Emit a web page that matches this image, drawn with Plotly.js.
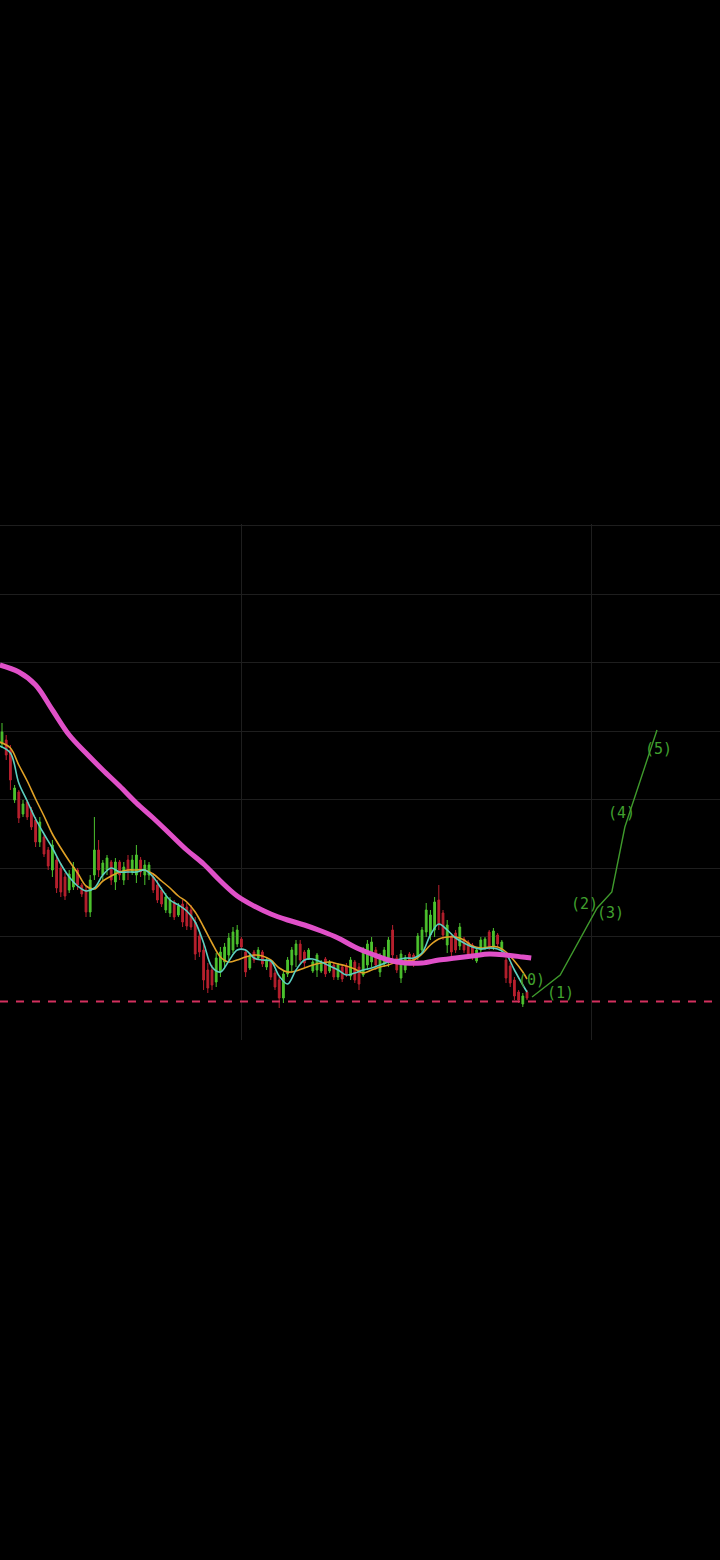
<!DOCTYPE html>
<html>
<head>
<meta charset="utf-8">
<script src="https://cdn.plot.ly/plotly-3.0.1.min.js"></script>
<style>html,body{margin:0;padding:0;background:#000;}#chart{width:720px;height:1560px;}</style>
</head>
<body>
<div id="chart"></div>
<script>
// Candle data (index-based x)
var openP  = [29.6,30.0,29.0,24.0,24.8,22.6,23.8,23.0,22.0,19.8,20.3,19.0,17.0,18.0,17.2,16.3,15.0,15.3,17.0,15.5,15.0,12.8,16.5,19.0,16.5,17.0,17.8,15.8,17.8,16.0,18.0,16.8,16.5,18.0,16.5,16.5,16.3,15.5,15.0,13.0,12.7,13.8,12.5,13.6,13.3,13.0,11.8,10.4,9.0,7.0,7.0,5.8,6.8,7.8,8.5,9.0,9.6,10.1,8.8,7.2,8.8,8.2,8.8,7.3,7.8,6.7,6.0,4.2,6.6,7.5,8.5,9.6,8.8,8.1,6.9,7.0,6.9,8.1,6.9,7.5,6.3,7.3,7.4,6.4,7.8,7.3,6.5,7.5,7.8,9.0,6.8,7.6,7.8,11.0,8.2,6.2,7.0,8.6,8.5,8.3,9.0,10.8,10.5,11.0,14.0,12.7,9.5,10.4,10.7,9.4,10.1,9.8,9.5,7.9,9.0,9.2,10.8,9.3,10.5,9.0,8.0,7.4,6.0,4.8,3.6,4.8];
var highP  = [31.7,30.5,29.5,25.5,25.0,24.0,24.0,23.3,22.3,22.3,20.5,19.3,20.0,18.3,17.7,16.7,17.0,17.8,17.2,15.7,15.3,16.5,22.3,20.0,18.0,18.5,18.0,18.2,18.0,17.8,18.5,18.5,19.5,18.3,18.0,17.8,16.7,16.0,15.3,14.7,14.3,14.0,13.7,14.0,13.7,13.5,12.3,10.7,9.7,7.7,7.5,8.7,9.3,9.7,10.7,11.3,11.5,10.3,9.0,8.7,9.0,9.3,9.0,8.3,8.0,7.0,6.3,7.0,8.3,9.3,10.0,10.0,9.0,9.2,8.0,8.7,8.0,8.3,8.0,7.7,7.7,7.5,7.7,8.3,8.0,7.7,9.3,10.0,10.3,9.3,8.7,9.3,10.3,11.5,8.5,9.0,8.5,8.8,8.7,10.7,11.3,13.7,13.0,14.3,15.5,13.0,12.0,10.7,11.0,11.7,10.3,10.0,9.7,9.3,10.3,10.3,11.0,11.2,10.7,10.0,8.3,7.7,6.3,5.0,4.7,5.0];
var lowP   = [29.2,28.0,25.0,23.7,21.7,22.3,22.0,21.0,19.3,19.3,18.3,17.0,16.3,14.7,14.3,14.0,14.7,15.0,15.0,14.3,12.3,12.3,16.0,16.3,16.0,16.5,15.5,15.0,16.0,15.5,16.0,16.5,15.7,16.3,15.5,16.0,14.7,13.7,13.3,12.7,12.3,12.0,12.3,11.3,11.0,11.0,8.0,8.3,5.0,4.7,5.0,5.3,6.3,7.3,8.0,8.7,9.3,9.0,6.3,7.0,7.7,8.0,7.3,7.0,6.0,5.0,3.2,3.7,6.3,6.7,7.3,7.7,7.3,8.0,6.7,6.3,6.7,6.3,6.7,6.0,6.0,5.8,6.3,6.0,5.7,5.0,6.3,7.0,7.3,7.0,6.3,7.3,7.3,8.0,6.7,5.7,6.7,7.5,7.3,8.0,8.7,10.3,10.0,10.3,11.0,10.0,8.7,8.3,8.7,9.0,8.7,8.3,8.0,7.7,8.7,9.0,9.0,9.0,9.3,8.7,5.7,5.3,4.0,3.7,3.3,4.0];
var closeP = [30.8,28.5,26.0,25.2,22.2,23.6,22.3,21.3,19.8,21.8,18.6,17.4,19.5,15.2,14.8,14.4,16.6,17.3,15.5,14.6,12.8,16.0,19.0,17.0,17.7,18.2,16.0,17.8,16.5,17.3,16.8,18.0,18.5,16.8,17.5,17.5,15.0,14.0,13.6,14.3,14.0,12.3,13.4,11.8,11.4,11.3,8.6,8.8,6.0,5.2,5.5,8.2,8.8,9.3,10.2,10.8,11.0,9.3,6.8,8.4,8.0,9.0,7.6,8.0,6.3,5.3,4.2,6.6,8.0,9.0,9.6,8.0,7.7,9.0,7.8,8.5,7.8,6.6,7.8,6.3,7.5,6.1,6.6,8.0,6.0,5.6,9.0,9.6,9.8,7.5,8.4,9.0,10.0,8.5,7.0,8.6,8.2,7.8,7.6,10.4,11.0,13.0,12.5,13.8,11.5,10.5,11.5,8.8,9.0,11.3,9.0,8.6,8.3,9.0,10.0,10.1,9.3,10.9,9.6,9.8,6.2,5.7,4.4,4.0,4.4,4.2];

// Short and medium moving averages, sampled at these candle indices
var maIdx = [-0.5,2,4,6,8,10,12,14,16,18,20,22,24,26,28,30,32,34,36,38,40,42,44,46,48,50,52,54,56,58,60,62,64,66,68,70,72,74,76,78,80,82,84,86,88,90,92,94,96,98,100,102,104,106,108,110,112,114,116,118,120,122,124,125];
var maShort = [29.4,28.7,25.7,23.9,22.1,20.6,19.2,17.6,16.3,15.4,14.9,15.2,16.5,17.2,16.8,16.8,16.8,17.0,16.3,15.1,14.0,13.5,12.9,11.8,9.7,7.3,6.8,7.9,9.0,9.0,8.2,8.0,7.9,6.4,5.6,7.0,8.0,8.1,7.8,7.4,7.0,6.5,6.7,7.0,7.2,7.5,7.8,8.0,8.2,8.2,8.7,10.5,11.6,11.0,10.2,9.7,9.3,9.1,9.2,9.1,8.6,7.0,5.5,4.8];
var maMid   = [29.8,29.2,27.5,25.9,24.1,22.4,20.6,19.2,17.9,16.7,15.4,15.1,15.9,16.4,16.8,17.0,17.0,17.0,16.6,15.9,15.2,14.4,13.8,12.8,11.3,9.7,8.3,7.8,8.0,8.3,8.5,8.4,8.0,7.2,6.8,6.9,7.2,7.5,7.7,7.8,7.6,7.4,7.1,6.7,7.0,7.3,7.5,7.8,7.9,8.0,8.6,9.5,10.1,10.3,10.3,10.0,9.4,9.2,9.3,9.3,8.8,7.9,6.8,6.1];

// Long moving average
var maLongIdx = [-0.5,4,8,12,16,20,24,28,32,36,40,44,48,52,56,60,64,68,72,76,80,84,88,92,96,100,104,108,112,116,120,124,126];
var maLong = [37.5,36.8,35.5,33.0,30.5,28.7,27.0,25.4,23.7,22.2,20.6,19.0,17.6,15.9,14.4,13.4,12.6,12.0,11.5,10.9,10.2,9.3,8.6,8.0,7.7,7.7,8.0,8.2,8.4,8.6,8.5,8.3,8.2];

// Projected wave path and labels
var waveIdx = [126.2,132.9,141.7,145.2,148.3,155.95];
var waveVal = [4.3,6.5,13.2,14.8,21.3,31.0];
var waveLabels = ["(0)","(1)","(2)","(3)","(4)","(5)"];
var labelIdx = [126.1,132.9,138.6,144.9,147.5,156.3];
var labelVal = [6.0,4.7,13.6,12.7,22.7,29.1];

var supportLevel = 3.85;
var gridLevels = [10.35,17.2,24.05,30.9,37.75,44.6,51.45];

var idx = openP.map(function(_, i){ return i; });

var traces = [
  {
    type: 'candlestick', x: idx, open: openP, high: highP, low: lowP, close: closeP,
    increasing: {line: {color: '#4cc22e', width: 1}, fillcolor: '#4cc22e'},
    decreasing: {line: {color: '#b8202e', width: 1}, fillcolor: '#b8202e'},
    whiskerwidth: 0, hoverinfo: 'skip'
  },
  {type: 'scatter', mode: 'lines', x: maIdx, y: maMid, line: {color: '#e0a126', width: 1.6, shape: 'spline'}, hoverinfo: 'skip'},
  {type: 'scatter', mode: 'lines', x: maIdx, y: maShort, line: {color: '#5ccfc0', width: 1.6, shape: 'spline'}, hoverinfo: 'skip'},
  {type: 'scatter', mode: 'lines', x: maLongIdx, y: maLong, line: {color: '#e050c8', width: 5, shape: 'spline'}, hoverinfo: 'skip'},
  {type: 'scatter', mode: 'lines', x: waveIdx, y: waveVal, line: {color: '#3f9a2c', width: 1.4}, hoverinfo: 'skip'}
];

var annotations = waveLabels.map(function(t, i){
  return {x: labelIdx[i], y: labelVal[i], xref: 'x', yref: 'y', text: t, showarrow: false,
          font: {family: 'DejaVu Sans Mono, monospace', size: 15, color: '#41a02e'}};
});

var layout = {
  width: 720, height: 1560,
  paper_bgcolor: '#000', plot_bgcolor: '#000',
  margin: {l: 0, r: 0, t: 524, b: 520, pad: 0},
  showlegend: false,
  boxgap: 0.4,
  xaxis: {range: [-0.476, 170.95], tickvals: [57.14, 140.24], showticklabels: false, ticks: '',
          showgrid: true, gridcolor: '#1e1e1e', gridwidth: 1, zeroline: false, showline: false,
          rangeslider: {visible: false}, fixedrange: true},
  yaxis: {range: [0, 51.6], tickvals: gridLevels, showticklabels: false, ticks: '',
          showgrid: true, gridcolor: '#1e1e1e', gridwidth: 1, zeroline: false, showline: false, fixedrange: true},
  shapes: [{type: 'line', xref: 'paper', x0: 0, x1: 1, yref: 'y', y0: supportLevel, y1: supportLevel,
            line: {color: '#d3305e', width: 1.8, dash: '8px,8px'}}],
  annotations: annotations
};

Plotly.newPlot('chart', traces, layout, {staticPlot: true, displayModeBar: false});
</script>
</body>
</html>
